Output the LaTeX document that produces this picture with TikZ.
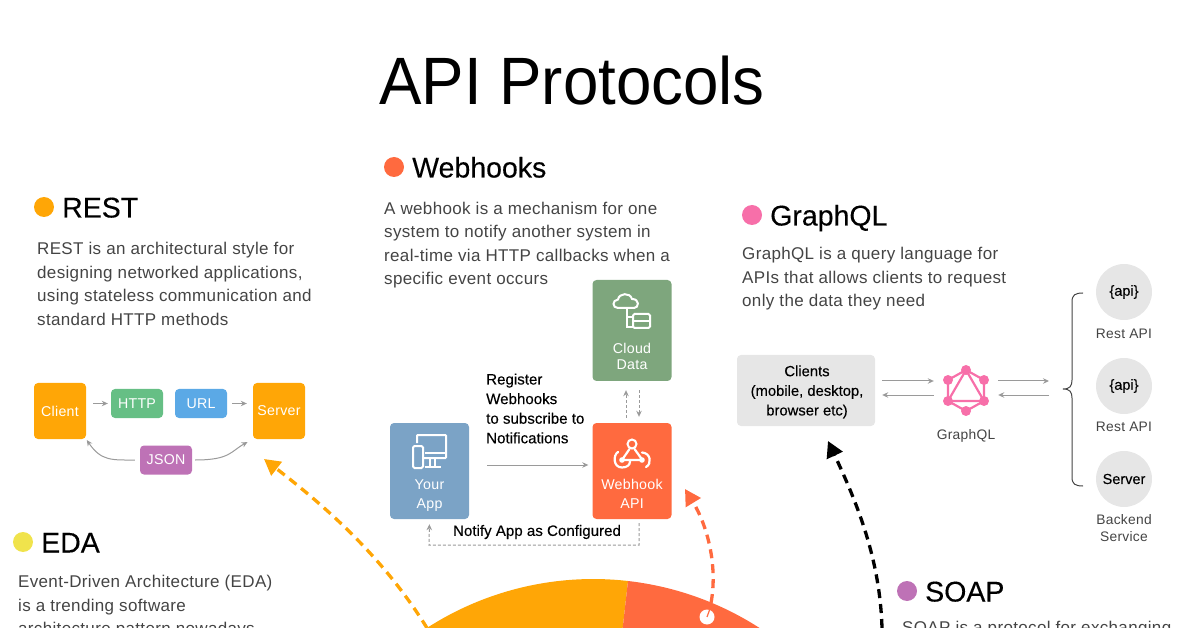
\documentclass[tikz,border=0pt]{standalone}
\usepackage{fontspec}
\setmainfont{Liberation Sans}
\newfontfamily\titlefont[FakeStretch=0.95]{Liberation Sans}
\newfontfamily\medfont[FakeBold=0.25]{Liberation Sans}
\newfontfamily\bodyfont[LetterSpace=2]{Liberation Sans}
\usetikzlibrary{arrows.meta}
\definecolor{restorange}{HTML}{FFA606}
\definecolor{hookred}{HTML}{FF6A3F}
\definecolor{qlpink}{HTML}{F76FA9}
\definecolor{edayellow}{HTML}{F0E34C}
\definecolor{soappurple}{HTML}{BE72B6}
\definecolor{httpgreen}{HTML}{66BF85}
\definecolor{urlblue}{HTML}{5BA9E6}
\definecolor{appblue}{HTML}{7BA3C6}
\definecolor{cloudgreen}{HTML}{7EA67D}
\definecolor{softgray}{HTML}{E6E6E6}
\definecolor{linegray}{HTML}{9A9A9A}
\definecolor{bodygray}{HTML}{444444}

\begin{document}
\begin{tikzpicture}[x=1pt, y=-1pt]
        \tikzset{heading/.style={anchor=base west, inner sep=0, font=\medfont\fontsize{28.5}{30}\selectfont},
                 blurb/.style={anchor=north west, align=left, inner sep=0, text=bodygray, font=\bodyfont\fontsize{17}{23.6}\selectfont},
                 dot/.style={circle, inner sep=0, minimum size=20pt},
                 tile/.style={rounded corners=4pt, inner sep=0, text=white, font=\bodyfont\fontsize{14.2}{19.6}\selectfont, align=center},
                 smalltile/.style={tile, minimum width=52pt, minimum height=29pt},
                 bigtile/.style={tile, minimum width=79pt},
                 thin arrow/.style={draw=linegray, line width=1pt, -{Stealth[length=6pt,width=5.5pt]}},
                 thin dash/.style={thin arrow, dash pattern=on 3pt off 2pt},
                 thick dash/.style={line width=3.3pt, dash pattern=on 9pt off 6pt},
                 tip dash/.style={thick dash, -{Triangle[length=16pt,width=17pt]}},
                 icon/.style={draw=white, line width=2pt},
                 logo/.style={draw=qlpink, line width=2.2pt},
                 service/.style={circle, fill=softgray, minimum size=56pt, inner sep=0, font=\medfont\fontsize{14.5}{16}\selectfont},
                 caption/.style={text=bodygray, align=center, inner sep=0, font=\bodyfont\fontsize{13.8}{17}\selectfont},
                 note/.style={align=left, inner sep=0, font=\medfont\fontsize{15.1}{19.6}\selectfont}}
        \useasboundingbox (0,0) rectangle (1200,628);
        \clip (0,0) rectangle (1200,628);

        \node [inner sep=0, font=\titlefont\fontsize{67}{80}\selectfont] (title) at (572,81){API Protocols};

        % the wheel at the bottom
        \coordinate (hub) at (593.5,886);
        \fill [restorange] (hub) -- (628,581) arc [start angle=-83.5, end angle=-125, radius=307] -- cycle;
        \fill [hookred] (hub) -- (628,581) arc [start angle=-83.5, end angle=-50, radius=307] -- cycle;
        \node [circle, fill=white, minimum size=15pt, inner sep=0] (wheelmark) at (707,617){};
        \draw [hookred, line width=1.2pt] (wheelmark.center) -- (wheelmark.70);

        % REST
        \node [dot, fill=restorange] (restdot) at (44,207){};
        \node [heading] (resthead) at (62,217.5){REST};
        \node [blurb] (resttext) at (37,242){REST is an architectural style for\\designing networked applications,\\using stateless communication and\\standard HTTP methods};
        \node [tile, fill=restorange, minimum width=52pt, minimum height=56pt] (client) at (60,411){Client};
        \node [tile, fill=restorange, minimum width=52pt, minimum height=56pt] (server) at (279,411){Server};
        \node [smalltile, fill=httpgreen] (http) at (137,403.5){HTTP};
        \node [smalltile, fill=urlblue] (url) at (201,403.5){URL};
        \node [smalltile, fill=soappurple] (json) at (166,460){JSON};
        \draw [thin arrow, shorten <=7pt, shorten >=3pt] (client.east |- http) -- (http);
        \draw [thin arrow, shorten <=5pt, shorten >=6pt] (url) -- (url -| server.west);
        \draw [thin arrow, shorten <=5pt, shorten >=1pt] (json.west) .. controls +(-28,0) and +(15,22) .. (client.south east);
        \draw [thin arrow, shorten <=3pt, shorten >=6pt] (json.east) .. controls +(38,0) and +(-22,12) .. (server.south west);

        % Webhooks
        \node [dot, fill=hookred] (hookdot) at (394,167){};
        \node [heading] (hookhead) at (412,177.5){Webhooks};
        \node [blurb] (hooktext) at (384,201.5){A webhook is a mechanism for one\\system to notify another system in\\real-time via HTTP callbacks when a\\specific event occurs};
        \node [bigtile, fill=cloudgreen, minimum height=101pt] (cloud) at (632,330.5){};
        \node [tile, font=\bodyfont\fontsize{14.2}{16}\selectfont] (cloudname) at (632,356){Cloud\\Data};
        \node [bigtile, fill=appblue, minimum height=96pt] (app) at (429.5,471){};
        \node [tile] (appname) at (429.5,495.5){Your\\App};
        \node [bigtile, fill=hookred, minimum height=96pt] (hook) at (632,471){};
        \node [tile] (hookname) at (632,494){Webhook\\API};
        \node [note, anchor=west] (register) at (486,408.5){Register\\Webhooks\\to subscribe to\\Notifications};
        \node [note] (notify) at (537,532){Notify App as Configured};
        \coordinate (appin) at (469,465);
        \draw [thin arrow, shorten <=18pt, shorten >=4pt] (appin) -- (appin -| hook.west);
        \draw [thin dash, shorten <=5pt, shorten >=9pt] (hook.north -| 626,0) -- (cloud.south -| 626,0);
        \draw [thin dash, shorten <=9pt, shorten >=6pt] (cloud.south -| 639,0) -- (hook.north -| 639,0);
        \draw [thin dash, shorten <=4pt, shorten >=5pt] (hook.south -| 639,0) |- (429,545) -- (app.south);

        % little pictures on the tiles
        \draw [icon, rounded corners=.8pt] (417,443) |- (446,435) -- (446,458) -- (423,458);
        \draw [icon] (425,453) -- (446,453) (430,458) -- (430,467) (435,458) -- (435,467) (425,467) -- (441,467);
        \draw [icon, rounded corners=1.5pt] (413,446) rectangle (423,468);
        \draw [icon, line cap=round] (618,308) .. controls (612,308) and (612,300) .. (618,299.5) .. controls (619,293) and (630,292) .. (632,299) .. controls (640,299) and (639,308) .. (634,308) -- cycle;
        \draw [icon] (627,308) |- (633,327) (627,317) -- (633,317);
        \draw [icon, rounded corners=1.5pt] (633,314) rectangle (650,328);
        \draw [icon] (633,321) -- (650,321);
        \draw [icon] (632,444) circle (4.5);
        \fill [white] (622,460) circle (2.8) (642,460) circle (2.8);
        \draw [icon, line width=2.2pt, line cap=round] (629.5,449) -- (622,460) -- (642,460) (634.5,449) -- (641,458)
              (618,452) .. controls (613,455) and (613,467.5) .. (622,467.5) .. controls (627,467.5) and (630,465) .. (630,461.5)
              (646,467) .. controls (652,464) and (651,453) .. (642,452.5);

        % GraphQL
        \node [dot, fill=qlpink] (qldot) at (752,215){};
        \node [heading] (qlhead) at (770,225.5){GraphQL};
        \node [blurb] (qltext) at (742,247){GraphQL is a query language for\\APIs that allows clients to request\\only the data they need};
        \node [tile, fill=softgray, minimum width=138pt, minimum height=71pt] (clients) at (806,390.5){};
        \node [tile, text=black, font=\medfont\fontsize{14.8}{19.6}\selectfont] (clientsname) at (807,392){Clients\\(mobile, desktop,\\browser etc)};
        \node [inner sep=0, minimum size=36pt] (logocore) at (966,390){};
        \node [caption] (qlname) at (966,436){GraphQL};
        \foreach \corner/\cx/\cy in {top/966/370, right/984/380, lowright/984/401, bottom/966/411, lowleft/948/401, left/948/380}
            \node [circle, fill=qlpink, minimum size=10pt, inner sep=0] (\corner) at (\cx,\cy){};
        \draw [logo] (top.center) -- (right.center) -- (lowright.center) -- (bottom.center) -- (lowleft.center) -- (left.center) -- cycle;
        \draw [logo] (top.center) -- (lowleft.center) -- (lowright.center) -- cycle;
        \coordinate (brace) at (1063,389);
        \draw [thin arrow, shorten <=7pt, shorten >=14pt] (clients.east |- 0,381) -- (logocore.west |- 0,381);
        \draw [thin arrow, shorten <=14pt, shorten >=7pt] (logocore.west |- 0,395) -- (clients.east |- 0,395);
        \draw [thin arrow, shorten <=14pt, shorten >=14pt] (logocore.east |- 0,381) -- (brace |- 0,381);
        \draw [thin arrow, shorten <=14pt, shorten >=14pt] (brace |- 0,395) -- (logocore.east |- 0,395);
        \draw [line width=1pt, draw=bodygray] (1083,293) .. controls (1075,293) and (1072,295) .. (1072,302) -- (1072,380) .. controls (1072,386) and (1070,389) .. (brace) .. controls (1070,389) and (1072,392) .. (1072,398) -- (1072,477) .. controls (1072,484) and (1075,486) .. (1083,486);
        \node [service] (api1) at (1124,292){\{api\}};
        \node [service] (api2) at (1124,386){\{api\}};
        \node [service] (backend) at (1124,479){Server};
        \node [caption] (api1name) at (1124,333.5){Rest API};
        \node [caption] (api2name) at (1124,427){Rest API};
        \node [caption] (backendname) at (1124,528.5){Backend\\Service};

        % EDA and SOAP
        \node [dot, fill=edayellow] (edadot) at (23,542){};
        \node [heading] (edahead) at (41,552.5){EDA};
        \node [blurb] (edatext) at (18,575){Event-Driven Architecture (EDA)\\is a trending software\\architecture pattern nowadays};
        \node [dot, fill=soappurple] (soapdot) at (907,591){};
        \node [heading] (soaphead) at (925,601.5){SOAP};
        \node [blurb] (soaptext) at (902,621){SOAP is a protocol for exchanging};

        % links from the wheel
        \coordinate (restfrom) at (427,628);
        \coordinate (restto) at (264,459);
        \coordinate (hookfrom) at (711,603);
        \coordinate (hookto) at (685,489);
        \coordinate (soapfrom) at (882,628);
        \coordinate (soapto) at (828,441);
        \draw [tip dash, restorange] (restfrom) .. controls (385,560) and (330,510) .. (restto);
        \draw [tip dash, hookred] (hookfrom) .. controls (718,565) and (707,525) .. (hookto);
        \draw [tip dash, black] (soapfrom) .. controls (880,560) and (858,505) .. (soapto);
    \end{tikzpicture}
\end{document}
